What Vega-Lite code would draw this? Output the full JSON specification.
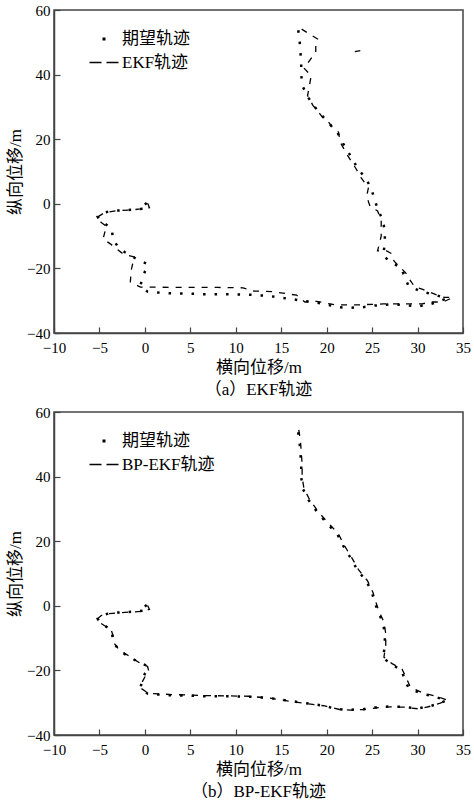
{
  "$schema": "https://vega.github.io/schema/vega-lite/v6.json",
  "padding": {"left": 5, "top": 2, "right": 5, "bottom": 3},
  "background": "white",
  "datasets": {
    "desired": [
      {"s":"期望轨迹","x":0,"y":0.3},{"s":"期望轨迹","x":0.4,"y":-0.8},{"s":"期望轨迹","x":-0.2,"y":-1.5},{"s":"期望轨迹","x":-1.1,"y":-1.8},{"s":"期望轨迹","x":-2.4,"y":-2.0},{"s":"期望轨迹","x":-3.7,"y":-2.2},{"s":"期望轨迹","x":-4.6,"y":-2.8},{"s":"期望轨迹","x":-5.2,"y":-4.0},{"s":"期望轨迹","x":-5.0,"y":-5.0},{"s":"期望轨迹","x":-4.4,"y":-6.2},{"s":"期望轨迹","x":-3.8,"y":-7.3},{"s":"期望轨迹","x":-3.6,"y":-8.8},{"s":"期望轨迹","x":-3.5,"y":-11.0},{"s":"期望轨迹","x":-2.9,"y":-13.6},{"s":"期望轨迹","x":-2.2,"y":-15.0},{"s":"期望轨迹","x":-1.5,"y":-16.1},{"s":"期望轨迹","x":-0.7,"y":-17.5},{"s":"期望轨迹","x":0.2,"y":-18.5},{"s":"期望轨迹","x":0.3,"y":-19.8},{"s":"期望轨迹","x":0.0,"y":-21.0},{"s":"期望轨迹","x":-0.3,"y":-23.3},{"s":"期望轨迹","x":-0.5,"y":-25.4},{"s":"期望轨迹","x":0.3,"y":-27.2},{"s":"期望轨迹","x":1.6,"y":-27.5},{"s":"期望轨迹","x":2.8,"y":-27.7},{"s":"期望轨迹","x":4.6,"y":-27.8},{"s":"期望轨迹","x":6.6,"y":-28.0},{"s":"期望轨迹","x":9.0,"y":-28.0},{"s":"期望轨迹","x":11.2,"y":-28.1},{"s":"期望轨迹","x":13.6,"y":-28.5},{"s":"期望轨迹","x":15.8,"y":-29.4},{"s":"期望轨迹","x":17.4,"y":-30.0},{"s":"期望轨迹","x":19.6,"y":-30.9},{"s":"期望轨迹","x":21.2,"y":-32.0},{"s":"期望轨迹","x":22.5,"y":-32.2},{"s":"期望轨迹","x":24.0,"y":-32.0},{"s":"期望轨迹","x":25.3,"y":-31.5},{"s":"期望轨迹","x":26.8,"y":-31.2},{"s":"期望轨迹","x":28.4,"y":-31.3},{"s":"期望轨迹","x":30.0,"y":-31.8},{"s":"期望轨迹","x":31.2,"y":-31.2},{"s":"期望轨迹","x":32.3,"y":-30.3},{"s":"期望轨迹","x":33.2,"y":-29.3},{"s":"期望轨迹","x":31.7,"y":-28.0},{"s":"期望轨迹","x":30.4,"y":-27.2},{"s":"期望轨迹","x":29.0,"y":-25.4},{"s":"期望轨迹","x":28.6,"y":-22.8},{"s":"期望轨迹","x":28.2,"y":-19.8},{"s":"期望轨迹","x":27.1,"y":-18.1},{"s":"期望轨迹","x":26.2,"y":-16.1},{"s":"期望轨迹","x":26.4,"y":-12.4},{"s":"期望轨迹","x":26.4,"y":-8.8},{"s":"期望轨迹","x":26.2,"y":-5.2},{"s":"期望轨迹","x":25.7,"y":-2.2},{"s":"期望轨迹","x":25.3,"y":1.0},{"s":"期望轨迹","x":25.0,"y":3.9},{"s":"期望轨迹","x":24.4,"y":7.5},{"s":"期望轨迹","x":23.4,"y":11.0},{"s":"期望轨迹","x":22.7,"y":14.5},{"s":"期望轨迹","x":21.8,"y":18.7},{"s":"期望轨迹","x":21.2,"y":22.0},{"s":"期望轨迹","x":20.1,"y":25.4},{"s":"期望轨迹","x":19.0,"y":28.8},{"s":"期望轨迹","x":18.0,"y":32.8},{"s":"期望轨迹","x":17.4,"y":36.1},{"s":"期望轨迹","x":17.2,"y":39.8},{"s":"期望轨迹","x":17.2,"y":43.7},{"s":"期望轨迹","x":17.1,"y":47.6},{"s":"期望轨迹","x":17.0,"y":51.3},{"s":"期望轨迹","x":16.8,"y":55.1}
    ],
    "ekf1": [
      {"s":"EKF轨迹","g":0,"x":0.3,"y":0.2},{"s":"EKF轨迹","g":0,"x":0.5,"y":-1.2},{"s":"EKF轨迹","g":0,"x":-0.5,"y":-1.6},{"s":"EKF轨迹","g":0,"x":-1.5,"y":-1.9},{"s":"EKF轨迹","g":0,"x":-3.0,"y":-2.1},{"s":"EKF轨迹","g":0,"x":-4.5,"y":-2.8},{"s":"EKF轨迹","g":0,"x":-5.3,"y":-4.3},{"s":"EKF轨迹","g":0,"x":-4.8,"y":-5.8},{"s":"EKF轨迹","g":0,"x":-4.2,"y":-7.0},{"s":"EKF轨迹","g":0,"x":-4.4,"y":-8.7},{"s":"EKF轨迹","g":0,"x":-4.6,"y":-10.9},{"s":"EKF轨迹","g":0,"x":-3.8,"y":-12.4},{"s":"EKF轨迹","g":0,"x":-3.1,"y":-14.0},{"s":"EKF轨迹","g":0,"x":-2.4,"y":-15.5},{"s":"EKF轨迹","g":0,"x":-1.1,"y":-16.5},{"s":"EKF轨迹","g":0,"x":-1.3,"y":-18.0},{"s":"EKF轨迹","g":0,"x":-1.5,"y":-20.5},{"s":"EKF轨迹","g":0,"x":-1.6,"y":-24.2},{"s":"EKF轨迹","g":0,"x":-0.5,"y":-25.8},{"s":"EKF轨迹","g":0,"x":1.0,"y":-25.8},{"s":"EKF轨迹","g":0,"x":3.9,"y":-25.9},{"s":"EKF轨迹","g":0,"x":8.0,"y":-25.9},{"s":"EKF轨迹","g":0,"x":10.8,"y":-26.0},{"s":"EKF轨迹","g":0,"x":11.9,"y":-27.0},{"s":"EKF轨迹","g":0,"x":14.1,"y":-27.2},{"s":"EKF轨迹","g":0,"x":16.7,"y":-28.3},{"s":"EKF轨迹","g":0,"x":17.6,"y":-30.4},{"s":"EKF轨迹","g":0,"x":18.9,"y":-30.2},{"s":"EKF轨迹","g":0,"x":20.4,"y":-31.0},{"s":"EKF轨迹","g":0,"x":21.0,"y":-31.3},{"s":"EKF轨迹","g":0,"x":23.3,"y":-31.3},{"s":"EKF轨迹","g":0,"x":26.2,"y":-31.0},{"s":"EKF轨迹","g":0,"x":27.7,"y":-31.0},{"s":"EKF轨迹","g":0,"x":30.5,"y":-31.0},{"s":"EKF轨迹","g":0,"x":31.4,"y":-30.4},{"s":"EKF轨迹","g":0,"x":32.8,"y":-30.4},{"s":"EKF轨迹","g":0,"x":33.9,"y":-29.0},{"s":"EKF轨迹","g":0,"x":33.0,"y":-29.0},{"s":"EKF轨迹","g":0,"x":32.4,"y":-28.5},{"s":"EKF轨迹","g":0,"x":31.0,"y":-27.0},{"s":"EKF轨迹","g":0,"x":30.5,"y":-26.4},{"s":"EKF轨迹","g":0,"x":29.7,"y":-25.8},{"s":"EKF轨迹","g":0,"x":29.1,"y":-23.3},{"s":"EKF轨迹","g":0,"x":28.8,"y":-21.7},{"s":"EKF轨迹","g":0,"x":27.4,"y":-17.7},{"s":"EKF轨迹","g":0,"x":27.2,"y":-15.5},{"s":"EKF轨迹","g":0,"x":26.6,"y":-14.6},{"s":"EKF轨迹","g":0,"x":25.6,"y":-14.6},{"s":"EKF轨迹","g":0,"x":26.0,"y":-10.0},{"s":"EKF轨迹","g":0,"x":26.0,"y":-5.0},{"s":"EKF轨迹","g":0,"x":25.6,"y":-2.2},{"s":"EKF轨迹","g":0,"x":24.8,"y":-1.0},{"s":"EKF轨迹","g":0,"x":24.6,"y":0.6},{"s":"EKF轨迹","g":0,"x":24.4,"y":2.4},{"s":"EKF轨迹","g":0,"x":24.6,"y":5.0},{"s":"EKF轨迹","g":0,"x":23.8,"y":8.0},{"s":"EKF轨迹","g":0,"x":23.2,"y":11.0},{"s":"EKF轨迹","g":0,"x":22.3,"y":15.0},{"s":"EKF轨迹","g":0,"x":21.5,"y":19.0},{"s":"EKF轨迹","g":0,"x":21.3,"y":22.2},{"s":"EKF轨迹","g":0,"x":20.6,"y":23.8},{"s":"EKF轨迹","g":0,"x":20.2,"y":25.3},{"s":"EKF轨迹","g":0,"x":19.5,"y":26.9},{"s":"EKF轨迹","g":0,"x":19.0,"y":28.8},{"s":"EKF轨迹","g":0,"x":18.5,"y":30.4},{"s":"EKF轨迹","g":0,"x":17.9,"y":33.5},{"s":"EKF轨迹","g":0,"x":18.2,"y":38.1},{"s":"EKF轨迹","g":0,"x":18.3,"y":39.7},{"s":"EKF轨迹","g":0,"x":17.5,"y":42.0},{"s":"EKF轨迹","g":0,"x":18.8,"y":46.9},{"s":"EKF轨迹","g":0,"x":18.8,"y":49.0},{"s":"EKF轨迹","g":0,"x":19.0,"y":51.0},{"s":"EKF轨迹","g":0,"x":17.0,"y":54.5},
      {"s":"EKF轨迹","g":1,"x":23.1,"y":47.1},{"s":"EKF轨迹","g":1,"x":23.7,"y":47.4}
    ],
    "ekf2": [
      {"s":"BP-EKF轨迹","x":0.3,"y":0.1},{"s":"BP-EKF轨迹","x":0.5,"y":-1.1},{"s":"BP-EKF轨迹","x":-0.3,"y":-1.7},{"s":"BP-EKF轨迹","x":-1.3,"y":-1.9},{"s":"BP-EKF轨迹","x":-2.6,"y":-2.1},{"s":"BP-EKF轨迹","x":-3.9,"y":-2.4},{"s":"BP-EKF轨迹","x":-4.8,"y":-3.0},{"s":"BP-EKF轨迹","x":-5.3,"y":-4.2},{"s":"BP-EKF轨迹","x":-4.9,"y":-5.3},{"s":"BP-EKF轨迹","x":-4.3,"y":-6.4},{"s":"BP-EKF轨迹","x":-3.7,"y":-7.6},{"s":"BP-EKF轨迹","x":-3.5,"y":-9.2},{"s":"BP-EKF轨迹","x":-3.4,"y":-11.5},{"s":"BP-EKF轨迹","x":-2.8,"y":-13.8},{"s":"BP-EKF轨迹","x":-2.0,"y":-15.1},{"s":"BP-EKF轨迹","x":-1.3,"y":-16.4},{"s":"BP-EKF轨迹","x":-0.5,"y":-17.8},{"s":"BP-EKF轨迹","x":0.3,"y":-18.8},{"s":"BP-EKF轨迹","x":0.4,"y":-20.0},{"s":"BP-EKF轨迹","x":0.1,"y":-21.5},{"s":"BP-EKF轨迹","x":-0.3,"y":-23.6},{"s":"BP-EKF轨迹","x":-0.4,"y":-25.6},{"s":"BP-EKF轨迹","x":0.4,"y":-27.1},{"s":"BP-EKF轨迹","x":1.8,"y":-27.3},{"s":"BP-EKF轨迹","x":3.0,"y":-27.5},{"s":"BP-EKF轨迹","x":4.8,"y":-27.6},{"s":"BP-EKF轨迹","x":6.8,"y":-27.8},{"s":"BP-EKF轨迹","x":9.2,"y":-27.9},{"s":"BP-EKF轨迹","x":11.4,"y":-28.0},{"s":"BP-EKF轨迹","x":13.8,"y":-28.6},{"s":"BP-EKF轨迹","x":16.0,"y":-29.6},{"s":"BP-EKF轨迹","x":17.6,"y":-30.2},{"s":"BP-EKF轨迹","x":19.8,"y":-31.0},{"s":"BP-EKF轨迹","x":21.4,"y":-32.1},{"s":"BP-EKF轨迹","x":22.7,"y":-32.3},{"s":"BP-EKF轨迹","x":24.2,"y":-32.1},{"s":"BP-EKF轨迹","x":25.5,"y":-31.6},{"s":"BP-EKF轨迹","x":27.0,"y":-31.3},{"s":"BP-EKF轨迹","x":28.6,"y":-31.4},{"s":"BP-EKF轨迹","x":30.1,"y":-31.9},{"s":"BP-EKF轨迹","x":31.4,"y":-31.1},{"s":"BP-EKF轨迹","x":32.5,"y":-30.1},{"s":"BP-EKF轨迹","x":33.3,"y":-29.2},{"s":"BP-EKF轨迹","x":31.9,"y":-27.9},{"s":"BP-EKF轨迹","x":30.6,"y":-27.0},{"s":"BP-EKF轨迹","x":29.2,"y":-25.2},{"s":"BP-EKF轨迹","x":28.8,"y":-22.6},{"s":"BP-EKF轨迹","x":28.3,"y":-19.6},{"s":"BP-EKF轨迹","x":27.2,"y":-17.9},{"s":"BP-EKF轨迹","x":26.3,"y":-15.9},{"s":"BP-EKF轨迹","x":26.5,"y":-12.2},{"s":"BP-EKF轨迹","x":26.5,"y":-8.6},{"s":"BP-EKF轨迹","x":26.3,"y":-5.0},{"s":"BP-EKF轨迹","x":25.8,"y":-2.0},{"s":"BP-EKF轨迹","x":25.4,"y":1.2},{"s":"BP-EKF轨迹","x":25.1,"y":4.1},{"s":"BP-EKF轨迹","x":24.5,"y":7.7},{"s":"BP-EKF轨迹","x":23.5,"y":11.2},{"s":"BP-EKF轨迹","x":22.8,"y":14.7},{"s":"BP-EKF轨迹","x":21.9,"y":18.9},{"s":"BP-EKF轨迹","x":21.3,"y":22.2},{"s":"BP-EKF轨迹","x":20.2,"y":25.6},{"s":"BP-EKF轨迹","x":19.1,"y":29.0},{"s":"BP-EKF轨迹","x":18.1,"y":33.0},{"s":"BP-EKF轨迹","x":17.5,"y":36.3},{"s":"BP-EKF轨迹","x":17.3,"y":40.0},{"s":"BP-EKF轨迹","x":17.3,"y":43.9},{"s":"BP-EKF轨迹","x":17.2,"y":47.8},{"s":"BP-EKF轨迹","x":17.1,"y":51.5},{"s":"BP-EKF轨迹","x":16.9,"y":55.0}
    ],
    "leg1": [{"s":"期望轨迹"},{"s":"EKF轨迹"}],
    "leg2": [{"s":"期望轨迹"},{"s":"BP-EKF轨迹"}]
  },
  "config": {
    "font": "Liberation Serif, Noto Sans CJK SC",
    "view": {"stroke": "#444", "strokeWidth": 1.5},
    "title": {"font": "Liberation Serif, Noto Sans CJK SC", "fontSize": 17, "fontWeight": "normal", "color": "black", "orient": "bottom", "anchor": "middle", "offset": 7},
    "axis": {
      "grid": false,
      "domainColor": "#444",
      "domainWidth": 1.5,
      "tickColor": "#444",
      "tickWidth": 1.2,
      "tickSize": -6,
      "labelFont": "Liberation Serif",
      "labelFontSize": 15,
      "labelColor": "black",
      "labelFlush": false,
      "labelOverlap": false,
      "titleFont": "Liberation Serif, Noto Sans CJK SC",
      "titleFontSize": 17,
      "titleFontWeight": "normal",
      "titleColor": "black"
    },
    "axisX": {"labelPadding": 13, "titlePadding": 4},
    "axisY": {"labelPadding": 10, "titlePadding": 2},
    "legend": {
      "orient": "none",
      "legendX": 34,
      "legendY": 13,
      "title": null,
      "padding": 0,
      "labelFont": "Liberation Serif, Noto Sans CJK SC",
      "labelFontSize": 17,
      "labelColor": "black",
      "labelOffset": 2,
      "symbolSize": 841,
      "symbolStrokeColor": "black",
      "symbolDashOffset": 34,
      "rowPadding": -2
    }
  },
  "resolve": {"scale": {"strokeDash": "independent", "strokeWidth": "independent", "x": "independent", "y": "independent"}, "legend": {"strokeDash": "independent", "strokeWidth": "independent"}},
  "spacing": 5,
  "vconcat": [
    {
      "width": 409,
      "height": 323,
      "title": {"text": "（a）EKF轨迹"},
      "layer": [
        {
          "data": {"name": "desired"},
          "mark": {"type": "line", "color": "black", "strokeWidth": 2.5, "strokeCap": "butt", "strokeDash": [2.5, 9]},
          "encoding": {
            "x": {"field": "x", "type": "quantitative", "scale": {"domain": [-10, 35], "nice": false}, "axis": {"values": [-10,-5,0,5,10,15,20,25,30,35], "title": "横向位移/m"}},
            "y": {"field": "y", "type": "quantitative", "scale": {"domain": [-40, 60], "nice": false}, "axis": {"values": [-40,-30,-20,-10,0,10,20,30,40,50,60], "title": "纵向位移/m"}},
            "order": {"value": null}
          }
        },
        {
          "data": {"name": "ekf1"},
          "mark": {"type": "line", "color": "black", "strokeWidth": 1.3, "strokeDash": [6, 7]},
          "encoding": {
            "x": {"field": "x", "type": "quantitative"},
            "y": {"field": "y", "type": "quantitative"},
            "detail": {"field": "g", "type": "nominal"},
            "order": {"value": null}
          }
        },
        {
          "data": {"name": "leg1"},
          "mark": {"type": "line", "color": "black"},
          "encoding": {
            "x": {"field": "x", "type": "quantitative"},
            "y": {"field": "y", "type": "quantitative"},
            "strokeDash": {"field": "s", "type": "ordinal", "scale": {"domain": ["期望轨迹", "EKF轨迹"], "range": [[3, 44], [12, 5]]}, "legend": {"title": null}},
            "strokeWidth": {"field": "s", "type": "ordinal", "scale": {"domain": ["期望轨迹", "EKF轨迹"], "range": [3, 1.6]}, "legend": {"title": null}}
          }
        }
      ]
    },
    {
      "width": 409,
      "height": 323,
      "title": {"text": "（b）BP-EKF轨迹"},
      "layer": [
        {
          "data": {"name": "desired"},
          "mark": {"type": "line", "color": "black", "strokeWidth": 2.5, "strokeCap": "butt", "strokeDash": [2.5, 9]},
          "encoding": {
            "x": {"field": "x", "type": "quantitative", "scale": {"domain": [-10, 35], "nice": false}, "axis": {"values": [-10,-5,0,5,10,15,20,25,30,35], "title": "横向位移/m"}},
            "y": {"field": "y", "type": "quantitative", "scale": {"domain": [-40, 60], "nice": false}, "axis": {"values": [-40,-30,-20,-10,0,10,20,30,40,50,60], "title": "纵向位移/m"}},
            "order": {"value": null}
          }
        },
        {
          "data": {"name": "ekf2"},
          "mark": {"type": "line", "color": "black", "strokeWidth": 1.3, "strokeDash": [6, 7]},
          "encoding": {
            "x": {"field": "x", "type": "quantitative"},
            "y": {"field": "y", "type": "quantitative"},
            "order": {"value": null}
          }
        },
        {
          "data": {"name": "leg2"},
          "mark": {"type": "line", "color": "black"},
          "encoding": {
            "x": {"field": "x", "type": "quantitative"},
            "y": {"field": "y", "type": "quantitative"},
            "strokeDash": {"field": "s", "type": "ordinal", "scale": {"domain": ["期望轨迹", "BP-EKF轨迹"], "range": [[3, 44], [12, 5]]}, "legend": {"title": null}},
            "strokeWidth": {"field": "s", "type": "ordinal", "scale": {"domain": ["期望轨迹", "BP-EKF轨迹"], "range": [3, 1.6]}, "legend": {"title": null}}
          }
        }
      ]
    }
  ]
}
